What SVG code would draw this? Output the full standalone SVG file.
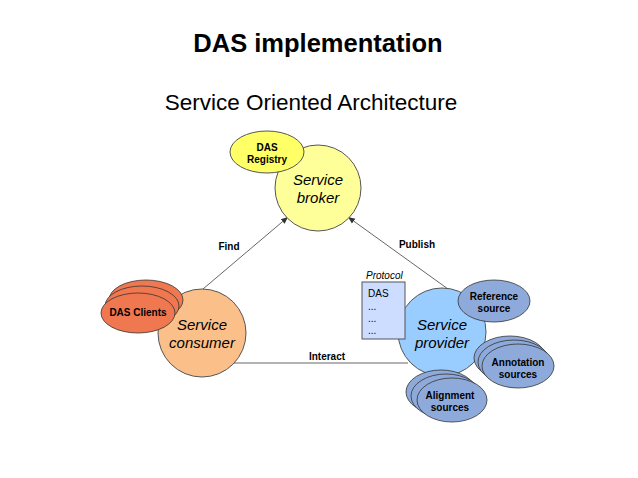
<svg xmlns="http://www.w3.org/2000/svg" width="638" height="478" viewBox="0 0 638 478">
<style>
text{font-family:"Liberation Sans",Arial,sans-serif;fill:#000}
.s{stroke:#555;stroke-width:1}
.b{font-weight:bold;font-size:10px}
.i{font-style:italic;font-size:15px}
.l{stroke:#666;stroke-width:1;fill:none}
.src{fill:#8EAADB;stroke:#333;stroke-width:0.8}
.cl{fill:#F07850;stroke:#333;stroke-width:0.8}
</style>
<defs><marker id="a" markerWidth="8" markerHeight="8" refX="7" refY="4" orient="auto" markerUnits="userSpaceOnUse"><path d="M0,1 L7,4 L0,7z" fill="#333"/></marker></defs>
<rect width="638" height="478" fill="#fff"/>
<text x="318" y="52" text-anchor="middle" font-size="25.5" font-weight="bold">DAS implementation</text>
<text x="311" y="110" text-anchor="middle" font-size="22.5">Service Oriented Architecture</text>
<g id="connectors">
<line class="l" x1="203" y1="289" x2="288" y2="217" marker-end="url(#a)"/>
<line class="l" x1="448" y1="289" x2="348" y2="217" marker-end="url(#a)"/>
<line class="l" x1="233" y1="363" x2="408" y2="363"/>
<text class="b" x="229" y="250" text-anchor="middle">Find</text>
<text class="b" x="417" y="248" text-anchor="middle">Publish</text>
<text class="b" x="327" y="360" text-anchor="middle">Interact</text>
</g>
<g id="broker"><circle cx="318" cy="188" r="43" fill="#FFFF99" class="s"/>
<text class="i" x="318" y="185" text-anchor="middle">Service</text><text class="i" x="318" y="203" text-anchor="middle">broker</text></g>
<g id="registry"><ellipse cx="267" cy="152" rx="37" ry="21" fill="#FFFF66" class="s"/>
<text class="b" x="267" y="151" text-anchor="middle">DAS</text><text class="b" x="267" y="163" text-anchor="middle">Registry</text></g>
<g id="consumer"><circle cx="202" cy="333" r="44" fill="#FBC08A" class="s"/>
<text class="i" x="202" y="330" text-anchor="middle">Service</text><text class="i" x="202" y="348" text-anchor="middle">consumer</text></g>
<g id="clients"><ellipse cx="146" cy="300" rx="37" ry="20" class="cl"/><ellipse cx="142" cy="306" rx="37" ry="20" class="cl"/><ellipse cx="138" cy="313" rx="37" ry="20" class="cl"/>
<text class="b" x="138" y="316" text-anchor="middle">DAS Clients</text></g>
<g id="provider"><circle cx="442" cy="332" r="44" fill="#99CCFF" class="s"/>
<text class="i" x="442" y="330" text-anchor="middle">Service</text><text class="i" x="442" y="348" text-anchor="middle">provider</text></g>
<g id="protocol"><rect x="362" y="282" width="43" height="57" fill="#CCDDFF" stroke="#555"/>
<text x="366" y="279" font-size="10" font-style="italic">Protocol</text>
<text x="368" y="297" font-size="10">DAS</text><text x="368" y="310" font-size="10">...</text><text x="368" y="322" font-size="10">...</text><text x="368" y="334" font-size="10">...</text></g>
<g id="reference"><ellipse cx="494" cy="301" rx="36" ry="21" class="src"/>
<text class="b" x="494" y="300" text-anchor="middle">Reference</text><text class="b" x="494" y="312" text-anchor="middle">source</text></g>
<g id="annotation"><ellipse cx="510" cy="358" rx="36" ry="22" class="src"/><ellipse cx="514" cy="362" rx="36" ry="22" class="src"/><ellipse cx="518" cy="366" rx="36" ry="22" class="src"/>
<text class="b" x="518" y="366" text-anchor="middle">Annotation</text><text class="b" x="518" y="378" text-anchor="middle">sources</text></g>
<g id="alignment"><ellipse cx="441" cy="392" rx="35" ry="22" class="src"/><ellipse cx="446" cy="396" rx="35" ry="22" class="src"/><ellipse cx="452" cy="400" rx="35" ry="22" class="src"/>
<text class="b" x="450" y="399" text-anchor="middle">Alignment</text><text class="b" x="450" y="411" text-anchor="middle">sources</text></g>
</svg>
